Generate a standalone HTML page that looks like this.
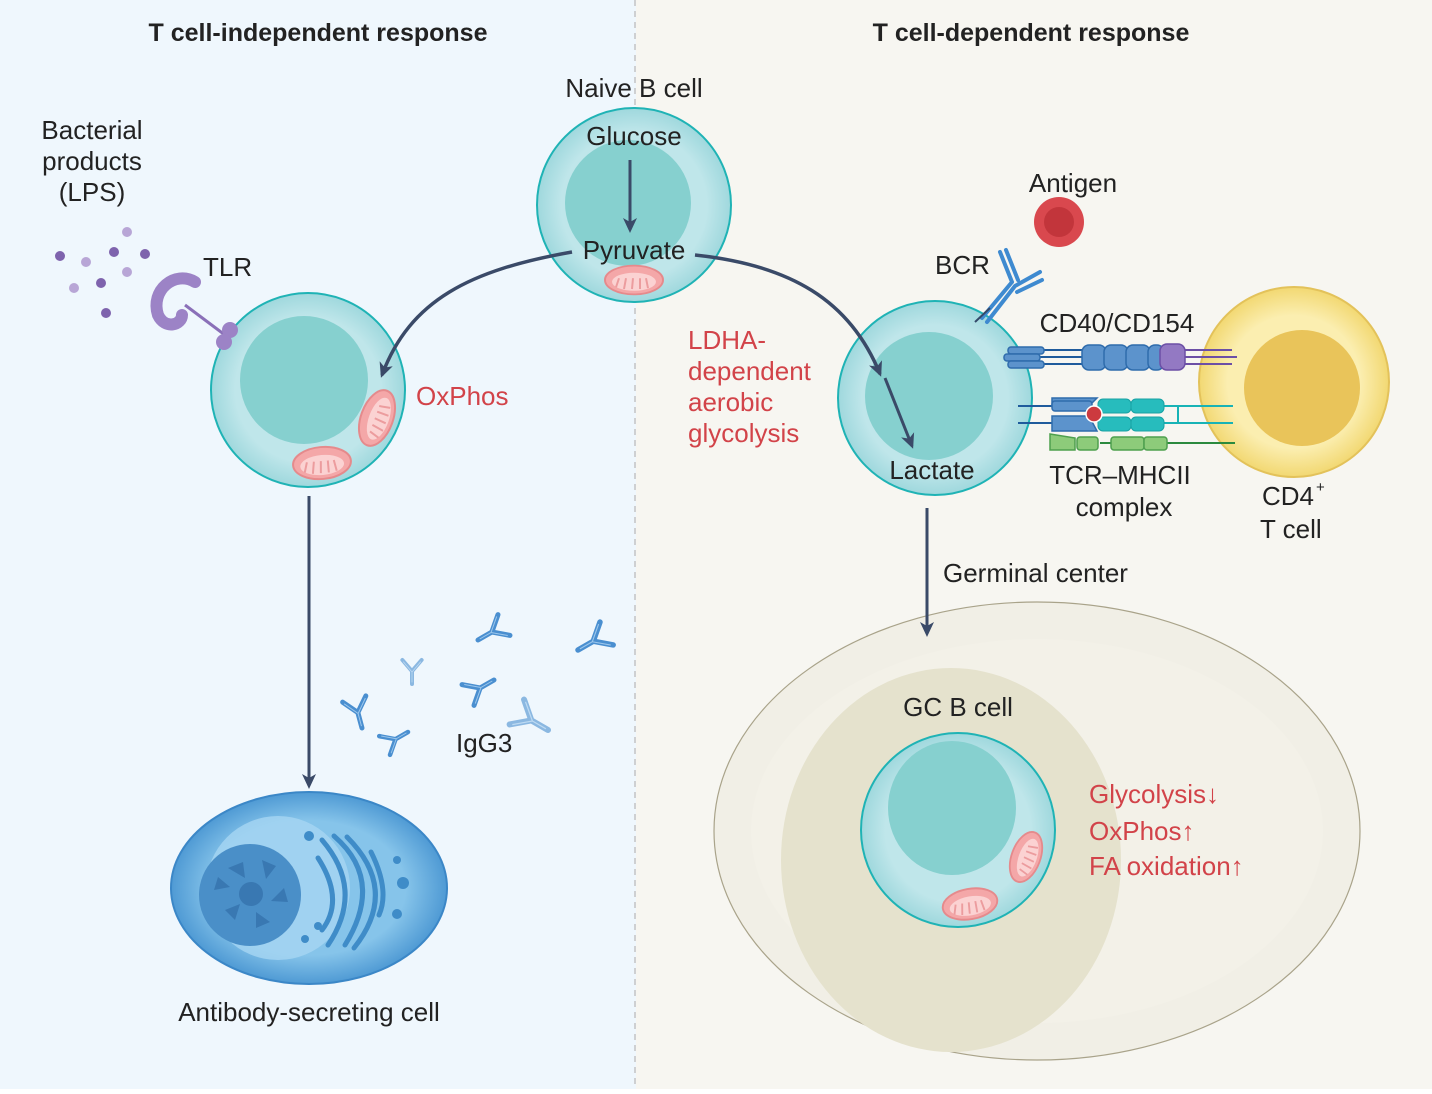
<!DOCTYPE html>
<html><head><meta charset="utf-8"><style>
html,body{margin:0;padding:0}
body{width:1432px;height:1089px;overflow:hidden;font-family:"Liberation Sans",sans-serif}
text{font-family:"Liberation Sans",sans-serif}
</style></head><body>
<svg width="1432" height="1089" viewBox="0 0 1432 1089" xmlns="http://www.w3.org/2000/svg">
<defs>
<radialGradient id="cellg" cx="0.5" cy="0.5" r="0.5"><stop offset="0.75" stop-color="#bfe6ea"/><stop offset="1" stop-color="#9fd8dd"/></radialGradient>
<radialGradient id="tg" cx="0.5" cy="0.5" r="0.5"><stop offset="0.7" stop-color="#fbeeb0"/><stop offset="1" stop-color="#f2d872"/></radialGradient>
<radialGradient id="asc" cx="0.5" cy="0.5" r="0.5"><stop offset="0.7" stop-color="#86c4ea"/><stop offset="1" stop-color="#4f9ad4"/></radialGradient>
<marker id="ah" markerWidth="16" markerHeight="16" refX="12" refY="8" orient="auto" markerUnits="userSpaceOnUse"><path d="M0,1 L15,8 L0,15 L4,8 z" fill="#3a4a68"/></marker>
<g id="mito"><ellipse cx="0" cy="0" rx="29" ry="16" fill="#f4a7a8" stroke="#e58a8c" stroke-width="2"/><ellipse cx="0" cy="2" rx="22" ry="10" fill="#fbd2d2"/><path d="M-18,8 l3,-10 M-10,10 l2,-12 M-2,10 l1,-12 M6,10 l0,-12 M14,9 l-2,-11" stroke="#ec9c9e" stroke-width="2"/></g>
<g id="ab"><path d="M0,0 L0,-16 L-12,-30 M0,-16 L12,-30" stroke="#4a8fd0" stroke-width="5" fill="none" stroke-linecap="round"/><path d="M0,-2 L0,-15 L-11,-28 M0,-15 L11,-28" stroke="#9cc7ec" stroke-width="1" fill="none"/></g>
</defs>
<rect x="0" y="0" width="636" height="1089" fill="#eff7fd"/>
<rect x="636" y="0" width="796" height="1089" fill="#f7f6f1"/>
<line x1="635" y1="0" x2="635" y2="1089" stroke="#c4c4c4" stroke-width="1.5" stroke-dasharray="6,5"/>

<text x="318" y="41" font-size="25" font-weight="bold" text-anchor="middle" fill="#222">T cell-independent response</text>
<text x="1031" y="41" font-size="25" font-weight="bold" text-anchor="middle" fill="#222">T cell-dependent response</text>

<!-- Germinal center -->
<ellipse cx="1037" cy="831" rx="323" ry="229" fill="#f1efe6" stroke="#a9a38a" stroke-width="1.2"/>
<ellipse cx="1037" cy="831" rx="286" ry="192" fill="#f3f1e8"/>
<ellipse cx="951" cy="860" rx="170" ry="192" fill="#e5e2cd"/>

<!-- Naive B cell -->
<circle cx="634" cy="205" r="97" fill="url(#cellg)" stroke="#1fb3b5" stroke-width="2"/>
<circle cx="628" cy="203" r="63" fill="#86d0cf"/>
<use href="#mito" transform="translate(634,280) scale(1,0.9)"/>
<text x="634" y="97" font-size="26" text-anchor="middle" fill="#222">Naive B cell</text>
<text x="634" y="145" font-size="26" text-anchor="middle" fill="#222">Glucose</text>
<line x1="630" y1="160" x2="630" y2="230" stroke="#3a4a68" stroke-width="3" marker-end="url(#ah)"/>
<text x="634" y="259" font-size="26" text-anchor="middle" fill="#222">Pyruvate</text>

<!-- left cell -->
<circle cx="308" cy="390" r="97" fill="url(#cellg)" stroke="#1fb3b5" stroke-width="2"/>
<circle cx="304" cy="380" r="64" fill="#86d0cf"/>
<use href="#mito" transform="translate(377,418) rotate(-70)"/>
<use href="#mito" transform="translate(322,463) rotate(-5)"/>
<text x="416" y="405" font-size="26" fill="#d24349">OxPhos</text>

<!-- LPS + TLR -->
<text x="92" y="139" font-size="26" text-anchor="middle" fill="#222">Bacterial</text>
<text x="92" y="170" font-size="26" text-anchor="middle" fill="#222">products</text>
<text x="92" y="201" font-size="26" text-anchor="middle" fill="#222">(LPS)</text>
<g fill="#7e63ad"><circle cx="60" cy="256" r="5"/><circle cx="114" cy="252" r="5"/><circle cx="145" cy="254" r="5"/><circle cx="101" cy="283" r="5"/><circle cx="106" cy="313" r="5"/></g>
<g fill="#b8a6d6"><circle cx="86" cy="262" r="5"/><circle cx="127" cy="232" r="5"/><circle cx="127" cy="272" r="5"/><circle cx="74" cy="288" r="5"/></g>
<path d="M195,282 C175,270 150,290 158,315 C165,330 182,325 182,315" stroke="#9c83c6" stroke-width="12" fill="none" stroke-linecap="round"/>
<line x1="185" y1="305" x2="225" y2="335" stroke="#8a70b8" stroke-width="3"/>
<circle cx="230" cy="330" r="8" fill="#9c83c6"/><circle cx="224" cy="342" r="8" fill="#9c83c6"/>
<text x="203" y="276" font-size="26" fill="#222">TLR</text>

<!-- arrow down left -->
<line x1="309" y1="496" x2="309" y2="786" stroke="#3a4a68" stroke-width="3" marker-end="url(#ah)"/>

<!-- IgG3 antibodies -->
<use href="#ab" transform="translate(412,684) scale(0.8)" opacity="0.6"/>
<use href="#ab" transform="translate(478,640) rotate(60)"/>
<use href="#ab" transform="translate(578,650) rotate(60) scale(1.1)"/>
<use href="#ab" transform="translate(494,680) rotate(-120)"/>
<use href="#ab" transform="translate(362,728) rotate(-15)"/>
<use href="#ab" transform="translate(408,732) rotate(-120) scale(0.9)"/>
<use href="#ab" transform="translate(548,730) rotate(-60) scale(1.2)" opacity="0.6"/>
<text x="456" y="752" font-size="26" fill="#222">IgG3</text>

<!-- Antibody secreting cell -->
<ellipse cx="309" cy="888" rx="138" ry="96" fill="url(#asc)" stroke="#3b87c7" stroke-width="2"/>
<circle cx="278" cy="888" r="72" fill="#a6d6f2" opacity="0.8"/>
<circle cx="250" cy="895" r="51" fill="#4a8fc8"/>
<circle cx="251" cy="894" r="12" fill="#3978b2"/>
<g fill="#3978b2"><path d="M228,868 l15,-6 l2,16 z"/><path d="M262,860 l14,6 l-10,13 z"/><path d="M284,888 l4,14 l-17,-1 z"/><path d="M270,922 l-14,6 l0,-16 z"/><path d="M235,920 l-10,-10 l15,-6 z"/><path d="M214,890 l4,-13 l12,10 z"/></g>
<g stroke="#3f8cc8" stroke-width="5" fill="none" stroke-linecap="round"><path d="M318,858 Q345,900 322,930"/><path d="M322,840 Q365,890 328,945"/><path d="M334,836 Q385,880 345,945"/><path d="M347,837 Q400,890 354,948"/><path d="M371,852 Q390,890 379,915"/></g>
<g fill="#3f8cc8"><circle cx="309" cy="836" r="5"/><circle cx="397" cy="860" r="4"/><circle cx="403" cy="883" r="6"/><circle cx="397" cy="914" r="5"/><circle cx="318" cy="926" r="4"/><circle cx="305" cy="939" r="4"/></g>
<text x="309" y="1021" font-size="26" text-anchor="middle" fill="#222">Antibody-secreting cell</text>

<!-- T cell (behind receptors) -->
<circle cx="1294" cy="382" r="95" fill="url(#tg)" stroke="#e3c25a" stroke-width="2"/>
<circle cx="1302" cy="388" r="58" fill="#e9c45a"/>

<!-- Lactate cell -->
<circle cx="935" cy="398" r="97" fill="url(#cellg)" stroke="#1fb3b5" stroke-width="2"/>
<circle cx="929" cy="396" r="64" fill="#86d0cf"/>
<line x1="885" y1="378" x2="912" y2="446" stroke="#3a4a68" stroke-width="3" marker-end="url(#ah)"/>
<text x="932" y="479" font-size="26" text-anchor="middle" fill="#222">Lactate</text>
<text x="688" y="349" font-size="26" fill="#d24349">LDHA-</text>
<text x="688" y="380" font-size="26" fill="#d24349">dependent</text>
<text x="688" y="411" font-size="26" fill="#d24349">aerobic</text>
<text x="688" y="442" font-size="26" fill="#d24349">glycolysis</text>

<!-- curves (on top) -->
<path d="M572,252 C470,270 410,300 382,375" stroke="#3a4a68" stroke-width="3.5" fill="none" marker-end="url(#ah)"/>
<path d="M695,255 C790,265 850,300 880,374" stroke="#3a4a68" stroke-width="3.5" fill="none" marker-end="url(#ah)"/>

<!-- Antigen, BCR -->
<circle cx="1059" cy="222" r="25" fill="#d9484e"/><circle cx="1059" cy="222" r="15" fill="#c2353b"/>
<text x="1073" y="192" font-size="26" text-anchor="middle" fill="#222">Antigen</text>
<text x="935" y="274" font-size="26" fill="#222">BCR</text>
<g stroke="#3e8ad0" stroke-width="4" stroke-linecap="round" fill="none"><path d="M982,318 L1012,282 M987,322 L1015,286 M1012,282 L1000,252 M1018,280 L1006,250 M1015,286 L1040,272 M1017,292 L1042,280"/></g>
<line x1="975" y1="322" x2="990" y2="308" stroke="#34496a" stroke-width="2"/>

<!-- CD40/CD154 -->
<text x="1117" y="332" font-size="26" text-anchor="middle" fill="#222">CD40/CD154</text>
<g stroke="#1f5b9c" stroke-width="2"><line x1="1010" y1="350" x2="1180" y2="350"/><line x1="1010" y1="357" x2="1180" y2="357"/><line x1="1010" y1="364" x2="1180" y2="364"/></g>
<g stroke="#6c4fa6" stroke-width="2"><line x1="1180" y1="350" x2="1232" y2="350"/><line x1="1180" y1="357" x2="1237" y2="357"/><line x1="1180" y1="364" x2="1232" y2="364"/></g>
<g fill="#5c93cc" stroke="#2f6cac" stroke-width="1.5">
<rect x="1008" y="347" width="36" height="7" rx="3"/><rect x="1004" y="354" width="36" height="7" rx="3"/><rect x="1008" y="361" width="36" height="7" rx="3"/>
<rect x="1082" y="345" width="24" height="25" rx="7"/><rect x="1104" y="345" width="24" height="25" rx="7"/><rect x="1126" y="345" width="24" height="25" rx="7"/><rect x="1148" y="345" width="16" height="25" rx="7"/>
</g>
<rect x="1160" y="344" width="25" height="26" rx="7" fill="#9379c3" stroke="#6c4fa6" stroke-width="1.5"/>

<!-- TCR-MHCII -->
<g stroke="#1f5b9c" stroke-width="2"><line x1="1018" y1="406" x2="1060" y2="406"/><line x1="1018" y1="423" x2="1060" y2="423"/></g>
<g stroke="#18b3b6" stroke-width="2"><line x1="1160" y1="406" x2="1233" y2="406"/><line x1="1160" y1="423" x2="1233" y2="423"/><line x1="1178" y1="406" x2="1178" y2="423"/></g>
<g fill="#5c93cc" stroke="#2f6cac" stroke-width="1.5"><path d="M1052,398 h45 l-8,8 h-37 z"/><path d="M1052,416 h37 l8,15 h-45 z"/><rect x="1052" y="401" width="40" height="10" rx="3"/></g>
<g fill="#27bcbd" stroke="#18a2a4" stroke-width="1"><rect x="1098" y="399" width="33" height="14" rx="5"/><rect x="1131" y="399" width="33" height="14" rx="5"/><rect x="1098" y="417" width="33" height="14" rx="5"/><rect x="1131" y="417" width="33" height="14" rx="5"/></g>
<circle cx="1094" cy="414" r="8" fill="#cc3a3f" stroke="#fff" stroke-width="1.5"/>
<line x1="1100" y1="443" x2="1235" y2="443" stroke="#2b8a3e" stroke-width="2"/>
<g fill="#8dcb7a" stroke="#4ea04e" stroke-width="1.5"><path d="M1050,434 l25,4 v12 h-25 z"/><rect x="1077" y="437" width="21" height="13" rx="3"/><rect x="1111" y="437" width="33" height="13" rx="3"/><rect x="1144" y="437" width="23" height="13" rx="3"/></g>
<text x="1120" y="484" font-size="26" text-anchor="middle" fill="#222">TCR–MHCII</text>
<text x="1124" y="516" font-size="26" text-anchor="middle" fill="#222">complex</text>
<text x="1262" y="505" font-size="26" fill="#222">CD4</text><text x="1316" y="492" font-size="15" fill="#222">+</text>
<text x="1260" y="538" font-size="26" fill="#222">T cell</text>

<!-- GC arrow -->
<line x1="927" y1="508" x2="927" y2="634" stroke="#3a4a68" stroke-width="3" marker-end="url(#ah)"/>
<text x="943" y="582" font-size="26" fill="#222">Germinal center</text>

<!-- GC B cell -->
<circle cx="958" cy="830" r="97" fill="url(#cellg)" stroke="#1fb3b5" stroke-width="2"/>
<ellipse cx="952" cy="808" rx="64" ry="67" fill="#86d0cf"/>
<use href="#mito" transform="translate(1026,857) rotate(-70) scale(0.9)"/>
<use href="#mito" transform="translate(970,904) rotate(-10) scale(0.95)"/>
<text x="958" y="716" font-size="26" text-anchor="middle" fill="#222">GC B cell</text>
<text x="1089" y="803" font-size="26" fill="#d24349">Glycolysis↓</text>
<text x="1089" y="840" font-size="26" fill="#d24349">OxPhos↑</text>
<text x="1089" y="875" font-size="26" fill="#d24349">FA oxidation↑</text>
</svg>
</body></html>
